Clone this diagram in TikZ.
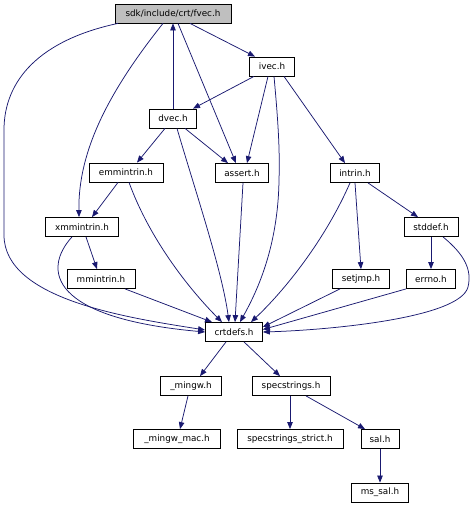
\documentclass[tikz,border=0pt]{standalone}
\usepackage{fontspec}
\setmainfont{DejaVu Sans}
\usetikzlibrary{arrows.meta}
\definecolor{edgec}{HTML}{191970}
\definecolor{rootfill}{HTML}{BFBFBF}
\begin{document}
\begin{tikzpicture}[x=1pt,y=-1pt,
  box/.style={draw=black, fill=white, line width=0.8pt, minimum height=19pt, inner sep=0pt, font=\fontsize{8.8}{10}\selectfont},
  edge/.style={draw=edgec, line width=0.75pt, -{Triangle[length=7pt,width=5.5pt]}}]
\useasboundingbox (0,0) rectangle (474,506);
% nodes
\node[box, fill=rootfill, minimum width=116pt] (fvec) at (173,13.5) {sdk/include/crt/fvec.h};
\node[box, minimum width=45pt] (ivec) at (272,66.5) {ivec.h};
\node[box, minimum width=47pt] (dvec) at (173,118.5) {dvec.h};
\node[box, minimum width=53pt] (assert) at (242,173) {assert.h};
\node[box, minimum width=49pt] (intrin) at (355,173) {intrin.h};
\node[box, minimum width=74pt] (emm) at (126,172.5) {emmintrin.h};
\node[box, minimum width=73pt] (xmm) at (82,227) {xmmintrin.h};
\node[box, minimum width=68pt] (mm) at (101,279) {mmintrin.h};
\node[box, minimum width=57pt] (crt) at (234,332) {crtdefs.h};
\node[box, minimum width=54pt] (stddef) at (431,227) {stddef.h};
\node[box, minimum width=57pt] (setjmp) at (361,279) {setjmp.h};
\node[box, minimum width=49pt] (errno) at (431,279) {errno.h};
\node[box, minimum width=61pt] (mingw) at (191,386) {\_mingw.h};
\node[box, minimum width=78pt] (spec) at (291,386) {specstrings.h};
\node[box, minimum width=87pt] (mac) at (177,439) {\_mingw\_mac.h};
\node[box, minimum width=106pt] (strict) at (290,439) {specstrings\_strict.h};
\node[box, minimum width=38pt] (sal) at (380,439) {sal.h};
\node[box, minimum width=57pt] (mssal) at (380,492.5) {ms\_sal.h};
% edges from fvec
\draw[edge] ([xshift=17pt]fvec.south) -- ([xshift=-17pt]ivec.north);
\draw[edge] (dvec.north) -- (fvec.south);
\draw[edge] ([xshift=5pt]fvec.south) -- ([xshift=-6pt]assert.north);
\draw[edge] ([xshift=-10pt]fvec.south) .. controls (110,90) and (78,150) .. ([xshift=-3pt]xmm.north);
\draw[edge] ([xshift=-55pt]fvec.south) .. controls (40,40) and (4,80) .. (4,130) -- (4,235) .. controls (4,300) and (130,318) .. ([yshift=2pt]crt.west);
% ivec
\draw[edge] ([xshift=-18pt]ivec.south) -- ([xshift=20pt]dvec.north);
\draw[edge] ([xshift=-4pt]ivec.south) -- ([xshift=5pt]assert.north);
\draw[edge] ([xshift=12pt]ivec.south) -- ([xshift=-10pt]intrin.north);
\draw[edge] ([xshift=2pt]ivec.south) .. controls (278,120) and (280,150) .. (279,180) .. controls (278,250) and (255,295) .. ([xshift=6pt]crt.north);
% dvec
\draw[edge] ([xshift=-8pt]dvec.south) -- ([xshift=11pt]emm.north);
\draw[edge] ([xshift=12pt]dvec.south) -- ([xshift=-14pt]assert.north);
\draw[edge] ([xshift=4pt]dvec.south) .. controls (195,190) and (222,270) .. ([xshift=-5pt]crt.north);
% emmintrin
\draw[edge] ([xshift=-8pt]emm.south) -- ([xshift=10pt]xmm.north);
\draw[edge] ([xshift=3pt]emm.south) .. controls (150,240) and (190,290) .. ([xshift=-12pt]crt.north);
% xmmintrin
\draw[edge] ([xshift=4pt]xmm.south) -- ([xshift=-4pt]mm.north);
\draw[edge] ([xshift=-10pt]xmm.south) .. controls (42,270) and (50,318) .. (crt.west);
% mmintrin
\draw[edge] ([xshift=24pt]mm.south) -- ([xshift=-22pt]crt.north);
% assert
\draw[edge] ([xshift=1pt]assert.south) -- ([xshift=1pt]crt.north);
% intrin
\draw[edge] ([xshift=-5pt]intrin.south) .. controls (325,240) and (285,290) .. ([xshift=17pt]crt.north);
\draw[edge] (intrin.south) -- (setjmp.north);
\draw[edge] ([xshift=13pt]intrin.south) -- ([xshift=-13pt]stddef.north);
% stddef
\draw[edge] (stddef.south) -- (errno.north);
\draw[edge] ([xshift=12pt]stddef.south) .. controls (465,255) and (472,270) .. (468,287) .. controls (460,318) and (330,330) .. (crt.east);
% setjmp, errno
\draw[edge] ([xshift=-21pt]setjmp.south) -- ([yshift=5pt]crt.east);
\draw[edge] (errno.south west) -- ([yshift=2.5pt]crt.east);
% crtdefs
\draw[edge] ([xshift=-8pt]crt.south) -- ([xshift=9pt]mingw.north);
\draw[edge] ([xshift=10pt]crt.south) -- ([xshift=-11pt]spec.north);
% lower
\draw[edge] ([xshift=-3pt]mingw.south) -- ([xshift=3pt]mac.north);
\draw[edge] ([xshift=-1pt]spec.south) -- (strict.north);
\draw[edge] ([xshift=15pt]spec.south) -- ([xshift=-15pt]sal.north);
\draw[edge] (sal.south) -- (mssal.north);
\end{tikzpicture}
\end{document}
